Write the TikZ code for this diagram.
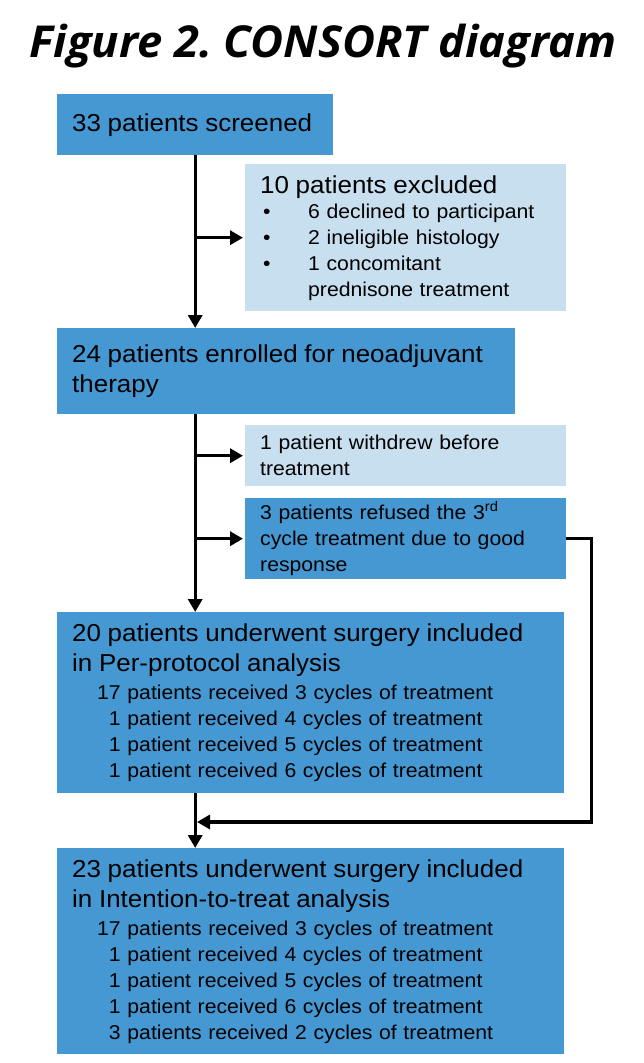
\documentclass[tikz,border=0pt]{standalone}
\usepackage{fontspec}
\setmainfont{Liberation Sans}[FakeStretch=1.06]
\newfontfamily\titlefont{Open Sans}[FakeStretch=1.03]
\usetikzlibrary{arrows.meta}
\frenchspacing

\definecolor{consortblue}{RGB}{70,152,211}
\definecolor{consortlight}{RGB}{200,223,240}
\newcommand{\boxfont}{\fontsize{20}{26}\selectfont\lineskiplimit=-30pt\relax}
\newcommand{\hdfont}{\fontsize{24.5}{26}\selectfont}
\newcommand{\bul}{\hspace*{3pt}\makebox[45pt][l]{\textbullet}}
\newcommand{\subline}[1]{\hspace*{25pt}#1}

\begin{document}
\begin{tikzpicture}[
  x=1pt, y=-1pt,
  box/.style={fill=consortblue, anchor=north west, align=left, inner xsep=15pt, inner ysep=0pt, font=\boxfont},
  lightbox/.style={box, fill=consortlight},
  flow/.style={-{Triangle[length=13pt,width=14pt]}, line width=3.4pt}
]
\useasboundingbox (0,0) rectangle (643,1063);

\node[font=\titlefont\fontsize{44}{50}\bfseries\itshape, anchor=base] (title) at (323,57) {Figure 2. CONSORT diagram};

\node[box, text width=246pt, minimum height=61pt] (screen) at (57,94) {\hdfont 33 patients screened};

\node[lightbox, text width=291pt, minimum height=147pt] (excl) at (245,164) {{\hdfont 10 patients excluded}\\[-1pt]
  \bul 6 declined to participant\\
  \bul 2 ineligible histology\\
  \bul 1 concomitant\\
  \hspace*{48pt}prednisone treatment};

\node[box, text width=428pt, minimum height=86pt] (enrol) at (57,328) {{\hdfont 24 patients enrolled for neoadjuvant}\\[4pt]{\hdfont therapy}};

\node[lightbox, text width=291pt, minimum height=61pt] (withdrew) at (245,425) {1 patient withdrew before\\treatment};

\node[box, text width=291pt, minimum height=81pt] (refused) at (245,498) {3 patients refused the 3\textsuperscript{rd}\\cycle treatment due to good\\response};

\node[box, text width=477pt, minimum height=181pt] (pp) at (57,612) {{\hdfont 20 patients underwent surgery included}\\[4pt]
  {\hdfont in Per-protocol analysis}\\[2pt]
  \subline{17 patients received 3 cycles of treatment}\\
  \subline{\phantom{1}1 patient received 4 cycles of treatment}\\
  \subline{\phantom{1}1 patient received 5 cycles of treatment}\\
  \subline{\phantom{1}1 patient received 6 cycles of treatment}};

\node[box, text width=477pt, minimum height=206pt] (itt) at (57,848) {{\hdfont 23 patients underwent surgery included}\\[4pt]
  {\hdfont in Intention-to-treat analysis}\\[2pt]
  \subline{17 patients received 3 cycles of treatment}\\
  \subline{\phantom{1}1 patient received 4 cycles of treatment}\\
  \subline{\phantom{1}1 patient received 5 cycles of treatment}\\
  \subline{\phantom{1}1 patient received 6 cycles of treatment}\\
  \subline{\phantom{1}3 patients received 2 cycles of treatment}};

\coordinate (merge) at (197,822);

\draw[flow] (screen.south) -- (screen.south |- enrol.north);
\draw[flow, shorten >=2pt] (screen.south |- excl.west) -- (excl.west);
\draw[flow] (screen.south |- enrol.south) -- (screen.south |- pp.north);
\draw[flow, shorten >=2pt] (screen.south |- withdrew.west) -- (withdrew.west);
\draw[flow, shorten >=2pt] (screen.south |- refused.west) -- (refused.west);
\draw[flow] (screen.south |- pp.south) -- (screen.south |- itt.north);
\draw[flow] (refused.east) -- ++(25,0) |- (merge);

\end{tikzpicture}
\end{document}
